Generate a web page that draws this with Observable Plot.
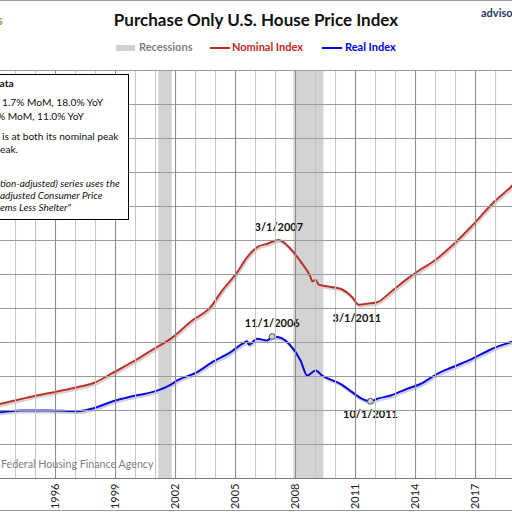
<!DOCTYPE html>
<html>
<head>
<meta charset="utf-8">
<script src="https://cdn.jsdelivr.net/npm/d3@7"></script>
<script src="https://cdn.jsdelivr.net/npm/@observablehq/plot@0.6"></script>
<style>
  html, body { margin: 0; padding: 0; background: #fff; }
  #wrap { position: relative; width: 512px; height: 512px; overflow: hidden; font-family: Lato, "Open Sans", sans-serif; background: #fff; }
  .layer { position: absolute; left: 0; top: 0; width: 512px; height: 512px; }
  .abs { position: absolute; white-space: nowrap; }
  #title { left: 0; width: 512px; top: 9px; text-align: center; font-weight: bold; font-size: 17px; color: #111; }
  #legend { left: 0; width: 512px; top: 40px; height: 16px; font-weight: bold; font-size: 11px; }
  .sw { position: absolute; }
  #box { left: -200px; top: 74px; width: 327px; height: 144px; border: 1px solid #000; background: #fff; }
  .note { font-size: 10.2px; color: #111; }
  .it { font-style: italic; font-size: 10px; }
  #source { left: 1px; top: 457px; font-size: 10.7px; color: #7f7f7f; }
  #brand { left: 481px; top: 6px; font-size: 11px; font-weight: bold; color: #1f3864; }
  #logo { left: -3px; top: 12px; font-size: 13px; font-weight: bold; color: #b0904a; }
  #topline { left: 0; top: 0; width: 512px; height: 1px; background: #9a9a9a; }
  #botline { left: 0; top: 510px; width: 512px; height: 1px; background: #9a9a9a; }
</style>
</head>
<body>
<div id="wrap">
  <div class="layer" id="series"></div>
  <div class="layer" id="grid"></div>
  <div class="abs" id="topline"></div>
  <div class="abs" id="botline"></div>
  <div class="abs" id="logo">s</div>
  <div class="abs" id="title">Purchase Only U.S. House Price Index</div>
  <div class="abs" id="brand">advisorperspectives.com</div>
  <div class="abs" id="legend">
    <div class="sw" style="left:116px;top:5px;width:19px;height:6px;background:#cfcfcf"></div>
    <div class="sw" style="left:139px;top:0;color:#7f7f7f">Recessions</div>
    <div class="sw" style="left:210px;top:7px;width:20px;height:2px;background:#c0281e"></div>
    <div class="sw" style="left:232px;top:0;color:#c0281e">Nominal Index</div>
    <div class="sw" style="left:322px;top:7px;width:20px;height:2px;background:#0000e6"></div>
    <div class="sw" style="left:345px;top:0;color:#0000e6">Real Index</div>
  </div>
  <div class="abs" id="box"></div>
  <div class="abs note" style="left:-8px;top:77px;font-weight:bold">Data</div>
  <div class="abs note" style="left:2px;top:96px">1.7% MoM, 18.0% YoY</div>
  <div class="abs note" style="left:-3px;top:110px">% MoM, 11.0% YoY</div>
  <div class="abs note" style="left:2px;top:130px">is at both its nominal peak</div>
  <div class="abs note" style="left:0px;top:143px">eak.</div>
  <div class="abs note it" style="left:0px;top:177px">tion-adjusted) series uses the</div>
  <div class="abs note it" style="left:0px;top:189px">adjusted Consumer Price</div>
  <div class="abs note it" style="left:0px;top:201px">ems Less Shelter"</div>
  <div class="abs" id="source">Federal Housing Finance Agency</div>
</div>
<script>
// Purchase-only house price index, nominal and inflation-adjusted (1991 = 100)
const nominalDates = ["1993-01","1993-04","1994-11","1996-02","1997-02","1998-01","1998-11","1999-11",
  "2000-11","2001-10","2002-11","2003-10","2004-05","2005-02","2005-08","2006-02","2006-08","2007-03",
  "2007-10","2008-04","2008-10","2008-11","2009-01","2009-03","2009-05","2010-04","2010-11","2011-03",
  "2011-10","2012-02","2012-10","2013-08","2014-04","2014-11","2015-11","2016-11","2017-11","2018-10","2019-01"];
const nominalValues = [104.1,104.9,110.3,114.0,117.1,120.8,127.4,135.5,
  144.6,152.7,166.2,176.0,188.2,201.7,212.7,220.1,222.6,225.4,
  218.9,209.6,198.0,195.0,196.0,192.5,191.9,189.5,183.3,177.7,
  178.9,179.6,187.0,196.8,203.7,209.0,221.3,236.0,252.0,264.2,268.0];

const realDates = ["1993-01","1993-04","1994-04","1995-09","1997-02","1997-12","1998-11","1999-11",
  "2000-11","2001-10","2002-02","2003-02","2003-11","2004-10","2005-05","2005-08","2005-09","2006-02",
  "2006-08","2006-11","2007-04","2007-10","2008-04","2008-08","2009-01","2009-05","2010-04","2010-11",
  "2011-05","2011-10","2012-02","2012-10","2013-08","2014-04","2015-02","2015-11","2016-11","2017-11",
  "2018-10","2019-01"];
const realValues = [98.8,98.8,100.0,100.0,99.5,101.7,106.6,110.5,
  113.5,118.9,122.1,128.2,135.5,142.9,149.0,151.0,148.5,152.7,
  151.5,154.4,153.5,147.8,136.8,125.7,129.4,125.7,119.6,113.5,
  108.6,106.8,108.6,111.0,116.0,119.5,127.0,131.8,138.0,145.4,
  150.2,151.5];

const recessionStarts = ["2001-03","2007-12"];
const recessionEnds = ["2001-11","2009-06"];

const tickYears = [1996, 1999, 2002, 2005, 2008, 2011, 2014, 2017];
const gridYears = d3.range(1993, 2019);
const yGrid = d3.range(50, 351, 25);

// Labelled turning points
const nominalPeak = "2007-03", nominalTrough = "2011-03";
const realPeak = "2006-11", realTrough = "2011-10";

const parse = d3.utcParse("%Y-%m");
const nominal = nominalDates.map((d, i) => ({date: parse(d), value: nominalValues[i]}));
const real = realDates.map((d, i) => ({date: parse(d), value: realValues[i]}));
const recessions = recessionStarts.map((s, i) => ({start: parse(s), end: parse(recessionEnds[i])}));
const fmt = d3.utcFormat("%-m/%-d/%Y");
const at = (series, d) => [series.find(p => +p.date === +parse(d))];

const yearDate = y => new Date(Date.UTC(y, 0, 1));
const majorDates = tickYears.map(yearDate);
const allYears = gridYears.map(yearDate);
const gridMajor = gridYears.filter(y => (y - 1993) % 3 === 0).map(yearDate);

// Shared frame and scales for both layers
const frame = {
  width: 512,
  height: 512,
  marginTop: 70,
  marginBottom: 34,
  marginLeft: 0,
  marginRight: 0,
  x: {type: "utc", domain: [new Date(Date.UTC(1993, 3, 1)), new Date(Date.UTC(2018, 10, 6))], axis: null},
  y: {domain: [50, 350], axis: null}
};

const label = (pts, dx, dy) => Plot.text(pts, {
  x: "date", y: "value", text: d => fmt(d.date), dx, dy,
  fontSize: 11, fontWeight: "bold", fill: "#111"
});

// Base layer: recession shading, year labels, the two index lines and their turning points
const seriesChart = Plot.plot({
  ...frame,
  style: {fontFamily: "Lato, 'Open Sans', sans-serif", background: "#fff"},
  marks: [
    Plot.rect(recessions, {x1: "start", x2: "end", y1: () => 50, y2: () => 350, fill: "#d3d3d3"}),
    Plot.axisX(majorDates, {tickFormat: "%Y", tickRotate: -90, tickSize: 0, tickPadding: 5, fontSize: 11, fill: "#222", label: null}),
    Plot.line(nominal, {x: "date", y: "value", stroke: "#dccccc", strokeWidth: 2, dx: 1, dy: 2, curve: "monotone-x", clip: true}),
    Plot.line(real, {x: "date", y: "value", stroke: "#ccccea", strokeWidth: 2, dx: 1, dy: 2, curve: "monotone-x", clip: true}),
    Plot.line(nominal, {x: "date", y: "value", stroke: "#b8322c", strokeWidth: 2, curve: "monotone-x", clip: true}),
    Plot.line(real, {x: "date", y: "value", stroke: "#0a0ad8", strokeWidth: 2, curve: "monotone-x", clip: true}),
    Plot.dot([...at(real, realPeak), ...at(real, realTrough)], {x: "date", y: "value", r: 3, fill: "#c9cfdd", stroke: "#555", strokeWidth: 1}),
    label(at(nominal, nominalPeak), 0, -12),
    label(at(nominal, nominalTrough), -2, 14),
    label(at(real, realPeak), 0, -13),
    label(at(real, realTrough), 0, 13)
  ]
});
document.getElementById("series").appendChild(seriesChart);

// Grid layer: yearly and index gridlines, with every third year darker
const gridChart = Plot.plot({
  ...frame,
  style: {background: "transparent"},
  marks: [
    Plot.ruleX(allYears, {stroke: "#c4c4c4", strokeWidth: 1}),
    Plot.ruleY(yGrid, {stroke: "#9c9c9c", strokeWidth: 1}),
    Plot.ruleX(gridMajor, {stroke: "#8a8a8a", strokeWidth: 1}),
    Plot.ruleY([50], {stroke: "#7a7a7a", strokeWidth: 1})
  ]
});
document.getElementById("grid").appendChild(gridChart);
</script>
</body>
</html>
